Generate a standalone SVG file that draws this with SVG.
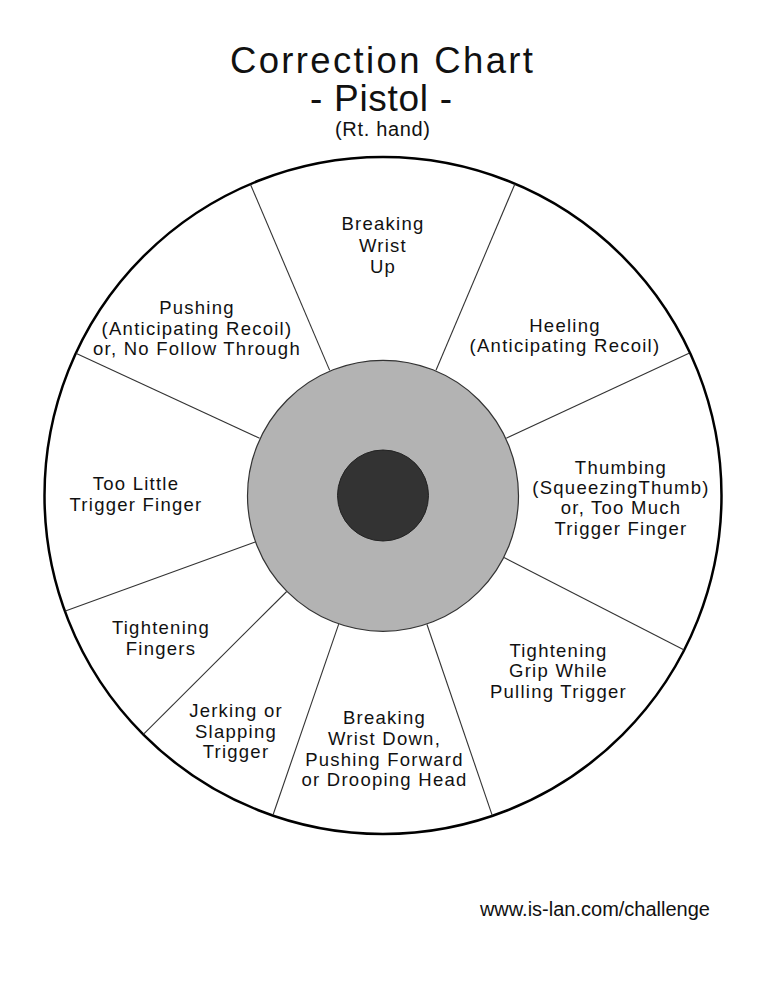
<svg xmlns="http://www.w3.org/2000/svg" width="768" height="994" viewBox="0 0 768 994">
<style>
.t{font-family:"Liberation Sans",Arial,Helvetica,sans-serif;fill:#111;}
.lbl{font-size:18.5px;letter-spacing:1.25px;text-anchor:middle;}
.div{stroke:#333;stroke-width:1.1;fill:none;}
</style>
<rect width="768" height="994" fill="#fff"/>
<g id="title">
<text class="t" x="230" y="73" font-size="36.5" textLength="303" lengthAdjust="spacing">Correction Chart</text>
<text class="t" x="310" y="111" font-size="37" textLength="142" lengthAdjust="spacing">- Pistol -</text>
<text class="t" x="335" y="136" font-size="20" textLength="95" lengthAdjust="spacing">(Rt. hand)</text>
</g>
<g id="outer-circle"><circle cx="383" cy="495.5" r="338.5" fill="#fff" stroke="#000" stroke-width="2.5"/></g>
<g id="connectors">
<line class="div" x1="329.7" y1="370.4" x2="250.5" y2="184.5"/>
<line class="div" x1="436" y1="370.2" x2="514.8" y2="184.2"/>
<line class="div" x1="259.6" y1="438.3" x2="76.4" y2="353.4"/>
<line class="div" x1="506.3" y1="438.2" x2="689" y2="353.2"/>
<line class="div" x1="255.2" y1="541.9" x2="65.4" y2="610.9"/>
<line class="div" x1="286.7" y1="591.5" x2="143.6" y2="734.1"/>
<line class="div" x1="338.7" y1="624.1" x2="273" y2="815"/>
<line class="div" x1="426.9" y1="624.2" x2="492.2" y2="815.4"/>
<line class="div" x1="504" y1="557.6" x2="683.7" y2="649.8"/>
</g>
<g id="target">
<circle cx="383" cy="495.8" r="135.5" fill="#b3b3b3" stroke="#333" stroke-width="1.2"/>
<circle cx="383" cy="495.5" r="45.5" fill="#333" stroke="#222" stroke-width="1"/>
</g>
<g id="seg-breaking-wrist-up"><text class="t lbl" x="383" y="230">Breaking<tspan x="383" y="251.5">Wrist</tspan><tspan x="383" y="272.5">Up</tspan></text></g>
<g id="seg-heeling"><text class="t lbl" x="565" y="331.5">Heeling<tspan x="565" y="351.5">(Anticipating Recoil)</tspan></text></g>
<g id="seg-thumbing"><text class="t lbl" x="621" y="473.5">Thumbing<tspan x="621" y="493.5">(SqueezingThumb)</tspan><tspan x="621" y="514">or, Too Much</tspan><tspan x="621" y="534.5">Trigger Finger</tspan></text></g>
<g id="seg-tightening-grip"><text class="t lbl" x="558.5" y="656.5">Tightening<tspan x="558.5" y="677">Grip While</tspan><tspan x="558.5" y="698">Pulling Trigger</tspan></text></g>
<g id="seg-breaking-wrist-down"><text class="t lbl" x="384.5" y="724">Breaking<tspan x="384.5" y="745">Wrist Down,</tspan><tspan x="384.5" y="765.5">Pushing Forward</tspan><tspan x="384.5" y="786">or Drooping Head</tspan></text></g>
<g id="seg-jerking"><text class="t lbl" x="236" y="716.5">Jerking or<tspan x="236" y="737.5">Slapping</tspan><tspan x="236" y="757.5">Trigger</tspan></text></g>
<g id="seg-tightening-fingers"><text class="t lbl" x="161" y="634">Tightening<tspan x="161" y="655">Fingers</tspan></text></g>
<g id="seg-too-little"><text class="t lbl" x="136" y="490">Too Little<tspan x="136" y="510.5">Trigger Finger</tspan></text></g>
<g id="seg-pushing"><text class="t lbl" x="197" y="314">Pushing<tspan x="197" y="334.5">(Anticipating Recoil)</tspan><tspan x="197" y="355">or, No Follow Through</tspan></text></g>
<g id="footer"><text class="t" x="710" y="916" font-size="20" text-anchor="end">www.is-lan.com/challenge</text></g>
</svg>
